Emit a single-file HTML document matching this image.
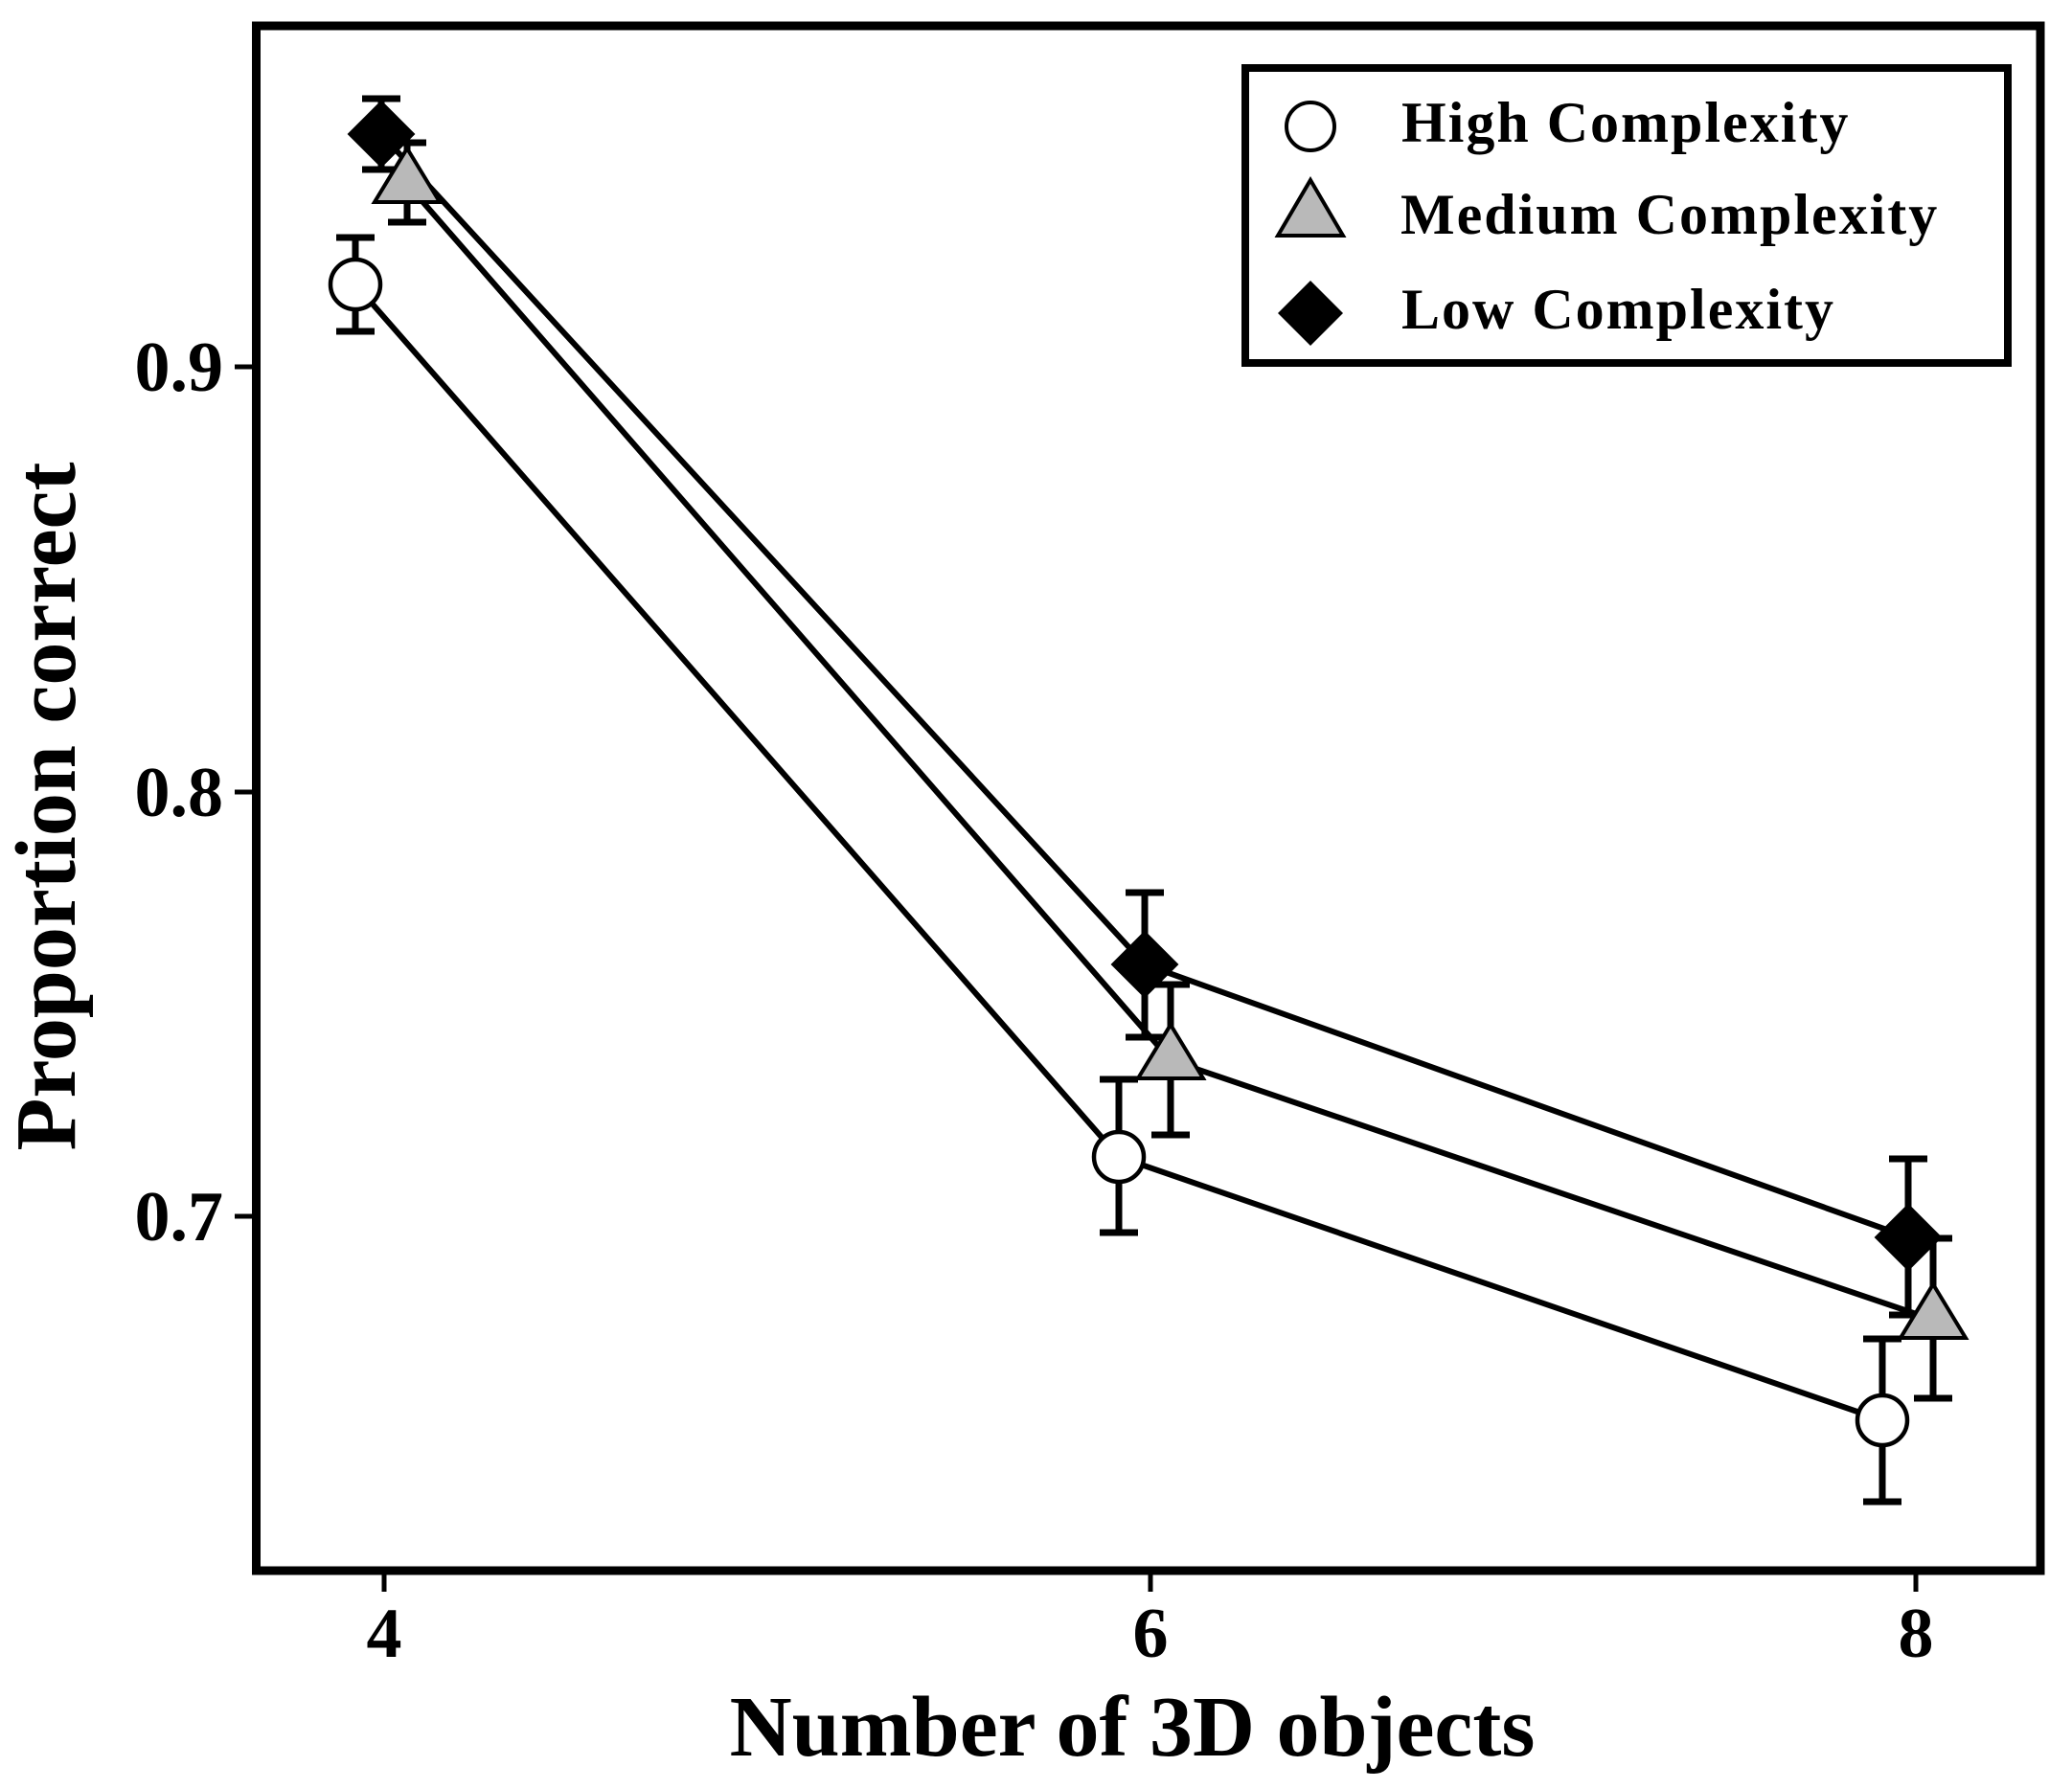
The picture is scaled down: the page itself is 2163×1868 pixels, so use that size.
<!DOCTYPE html>
<html>
<head>
<meta charset="utf-8">
<style>
  html, body { margin: 0; padding: 0; background: #ffffff; }
  body { width: 2163px; height: 1868px; overflow: hidden; }
  svg { display: block; }
  text { font-family: "Liberation Serif", "Times New Roman", serif; font-weight: bold; fill: #000; }
</style>
</head>
<body>
<svg width="2163" height="1868" viewBox="0 0 2163 1868" xmlns="http://www.w3.org/2000/svg">
  <rect x="0" y="0" width="2163" height="1868" fill="#ffffff"/>

  <!-- Plot frame -->
  <rect x="267.5" y="27" width="1862.5" height="1613" fill="none" stroke="#000" stroke-width="9"/>

  <!-- Y ticks -->
  <g stroke="#000" stroke-width="5">
    <line x1="245" y1="383" x2="264" y2="383"/>
    <line x1="245" y1="827" x2="264" y2="827"/>
    <line x1="245" y1="1270" x2="264" y2="1270"/>
  </g>
  <!-- X ticks -->
  <g stroke="#000" stroke-width="5">
    <line x1="401" y1="1644" x2="401" y2="1662"/>
    <line x1="1201" y1="1644" x2="1201" y2="1662"/>
    <line x1="2000" y1="1644" x2="2000" y2="1662"/>
  </g>

  <!-- Y tick labels -->
  <g font-size="74" text-anchor="end">
    <text x="233" y="408">0.9</text>
    <text x="233" y="852">0.8</text>
    <text x="233" y="1295">0.7</text>
  </g>
  <!-- X tick labels -->
  <g font-size="74" text-anchor="middle">
    <text x="401" y="1730">4</text>
    <text x="1201" y="1730">6</text>
    <text x="2000" y="1730">8</text>
  </g>

  <!-- Axis titles -->
  <text x="1182" y="1833" font-size="90" text-anchor="middle">Number of 3D objects</text>
  <text transform="translate(78,842) rotate(-90)" font-size="90" text-anchor="middle">Proportion correct</text>

  <!-- Series lines -->
  <g fill="none" stroke="#000" stroke-width="6" stroke-linejoin="round">
    <polyline points="398,140 1195,1007 1992,1292"/>
    <polyline points="425,192 1222,1107 2018,1378"/>
    <polyline points="371,297 1168,1208 1965,1483"/>
  </g>

  <!-- Error bars -->
  <g stroke="#000" stroke-width="7" fill="none">
    <!-- Low -->
    <line x1="398" y1="103" x2="398" y2="177"/>
    <line x1="378" y1="103" x2="418" y2="103"/>
    <line x1="378" y1="177" x2="418" y2="177"/>
    <line x1="1195" y1="932" x2="1195" y2="1083"/>
    <line x1="1175" y1="932" x2="1215" y2="932"/>
    <line x1="1175" y1="1083" x2="1215" y2="1083"/>
    <line x1="1992" y1="1210" x2="1992" y2="1373"/>
    <line x1="1972" y1="1210" x2="2012" y2="1210"/>
    <line x1="1972" y1="1373" x2="2012" y2="1373"/>
    <!-- Medium -->
    <line x1="425" y1="149" x2="425" y2="232"/>
    <line x1="405" y1="149" x2="445" y2="149"/>
    <line x1="405" y1="232" x2="445" y2="232"/>
    <line x1="1222" y1="1028" x2="1222" y2="1185"/>
    <line x1="1202" y1="1028" x2="1242" y2="1028"/>
    <line x1="1202" y1="1185" x2="1242" y2="1185"/>
    <line x1="2018" y1="1293" x2="2018" y2="1460"/>
    <line x1="1998" y1="1293" x2="2038" y2="1293"/>
    <line x1="1998" y1="1460" x2="2038" y2="1460"/>
    <!-- High -->
    <line x1="371" y1="248" x2="371" y2="346"/>
    <line x1="351" y1="248" x2="391" y2="248"/>
    <line x1="351" y1="346" x2="391" y2="346"/>
    <line x1="1168" y1="1127" x2="1168" y2="1287"/>
    <line x1="1148" y1="1127" x2="1188" y2="1127"/>
    <line x1="1148" y1="1287" x2="1188" y2="1287"/>
    <line x1="1965" y1="1398" x2="1965" y2="1568"/>
    <line x1="1945" y1="1398" x2="1985" y2="1398"/>
    <line x1="1945" y1="1568" x2="1985" y2="1568"/>
  </g>

  <!-- High markers: open circles -->
  <g fill="#ffffff" stroke="#000" stroke-width="4.5">
    <circle cx="371" cy="297" r="26"/>
    <circle cx="1168" cy="1208" r="26"/>
    <circle cx="1965" cy="1483" r="26"/>
  </g>
  <!-- Medium markers: gray triangles -->
  <g fill="#b9b9b9" stroke="#000" stroke-width="4" stroke-linejoin="miter">
    <polygon points="425,155 459,211 391,211"/>
    <polygon points="1222,1070 1256,1126 1188,1126"/>
    <polygon points="2018,1341 2052,1397 1984,1397"/>
  </g>
  <!-- Low markers: black diamonds -->
  <g fill="#000" stroke="#000" stroke-width="2">
    <polygon points="398,106 432,140 398,174 364,140"/>
    <polygon points="1195,973 1229,1007 1195,1041 1161,1007"/>
    <polygon points="1992,1258 2026,1292 1992,1326 1958,1292"/>
  </g>

  <!-- Legend -->
  <rect x="1300" y="71" width="796" height="308" fill="#ffffff" stroke="#000" stroke-width="8"/>
  <circle cx="1368" cy="132" r="25" fill="#ffffff" stroke="#000" stroke-width="4"/>
  <polygon points="1368,188 1402,246 1334,246" fill="#b9b9b9" stroke="#000" stroke-width="4"/>
  <polygon points="1368,293 1402,327 1368,361 1334,327" fill="#000"/>
  <g font-size="60" letter-spacing="2">
    <text x="1463" y="148">High Complexity</text>
    <text x="1462" y="244">Medium Complexity</text>
    <text x="1463" y="343">Low Complexity</text>
  </g>
</svg>
</body>
</html>
